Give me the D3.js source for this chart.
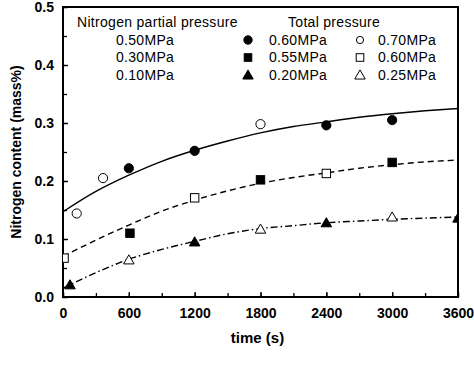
<!DOCTYPE html>
<html>
<head>
<meta charset="utf-8">
<script src="https://cdn.jsdelivr.net/npm/d3@7"></script>
<style>
body { margin: 0; background: #fff; }
svg { display: block; }
</style>
</head>
<body>
<div id="chart"></div>
<script>
// data
var curveTimes = [0, 300, 600, 900, 1200, 1500, 1800, 2100, 2400, 2700, 3000, 3300, 3600];
var curve050 = [0.147, 0.182, 0.210, 0.234, 0.253, 0.269, 0.283, 0.294, 0.302, 0.310, 0.316, 0.321, 0.325];
var curve030 = [0.070, 0.098, 0.124, 0.148, 0.167, 0.183, 0.196, 0.206, 0.214, 0.222, 0.228, 0.233, 0.236];
var curve010 = [0.015, 0.042, 0.065, 0.082, 0.096, 0.109, 0.118, 0.123, 0.128, 0.131, 0.134, 0.136, 0.138];

// points: [time, content]
var filledCircles = [[600, 0.222], [1200, 0.252], [2400, 0.296], [3000, 0.305]];
var openCircles = [[125, 0.144], [365, 0.205], [1800, 0.298]];
var filledSquares = [[610, 0.110], [1800, 0.202], [3000, 0.232]];
var openSquares = [[10, 0.067], [1200, 0.171], [2400, 0.213]];
var filledTriangles = [[64, 0.021], [1200, 0.095], [2400, 0.128], [3600, 0.136]];
var openTriangles = [[600, 0.064], [1800, 0.117], [3000, 0.138]];

var xTicks = [0, 600, 1200, 1800, 2400, 3000, 3600];
var yTicks = [0.0, 0.1, 0.2, 0.3, 0.4, 0.5];

var partialLabels = ["0.50MPa", "0.30MPa", "0.10MPa"];
var totalFilledLabels = ["0.60MPa", "0.55MPa", "0.20MPa"];
var totalOpenLabels = ["0.70MPa", "0.60MPa", "0.25MPa"];

var svgWidth = 474, svgHeight = 366;
var margin = {top: 7, right: 16, bottom: 69, left: 63};
var chartWidth = svgWidth - margin.left - margin.right;
var chartHeight = svgHeight - margin.top - margin.bottom;

var svg = d3.select("#chart").append("svg")
  .attr("width", svgWidth)
  .attr("height", svgHeight);

var chartGroup = svg.append("g")
  .attr("transform", `translate(${margin.left}, ${margin.top})`);

var x = d3.scaleLinear().domain([0, 3600]).range([0, chartWidth]);
var y = d3.scaleLinear().domain([0, 0.5]).range([chartHeight, 0]);

svg.append("defs").append("clipPath").attr("id", "plotclip")
  .append("rect").attr("width", chartWidth).attr("height", chartHeight);

var tickFont = "'Liberation Sans', Arial, sans-serif";
var legendFont = "'Liberation Sans', Arial, sans-serif";

// minor inward ticks
chartGroup.append("g")
  .attr("transform", `translate(0, ${chartHeight})`)
  .call(d3.axisBottom(x).tickValues(d3.range(0, 3601, 300)).tickSize(-4).tickFormat(""))
  .call(g => g.select(".domain").remove())
  .selectAll("line").attr("stroke-width", 1.3);
chartGroup.append("g")
  .call(d3.axisLeft(y).tickValues(d3.range(0, 0.501, 0.05)).tickSize(-4).tickFormat(""))
  .call(g => g.select(".domain").remove())
  .selectAll("line").attr("stroke-width", 1.3);

// x axis labels
var bottomAxis = chartGroup.append("g")
  .attr("transform", `translate(0, ${chartHeight})`)
  .call(d3.axisBottom(x).tickValues(xTicks).tickSize(-5).tickPadding(11).tickFormat(d3.format("d")));
bottomAxis.select(".domain").remove();
bottomAxis.selectAll("line").attr("stroke-width", 1.3);
bottomAxis.selectAll("text")
  .attr("font-family", tickFont).attr("font-weight", "bold").attr("font-size", "14px").attr("fill", "#000");

var leftAxis = chartGroup.append("g")
  .call(d3.axisLeft(y).tickValues(yTicks).tickSize(-5).tickPadding(9).tickFormat(d3.format(".1f")));
leftAxis.select(".domain").remove();
leftAxis.selectAll("line").attr("stroke-width", 1.3);
leftAxis.selectAll("text")
  .attr("font-family", tickFont).attr("font-weight", "bold").attr("font-size", "14px").attr("fill", "#000");

// frame
chartGroup.append("rect")
  .attr("width", chartWidth).attr("height", chartHeight)
  .attr("fill", "none").attr("stroke", "#000").attr("stroke-width", 2);

// curves
var line = d3.line()
  .x((d, i) => x(curveTimes[i]))
  .y(d => y(d))
  .curve(d3.curveMonotoneX);

var plot = chartGroup.append("g").attr("clip-path", "url(#plotclip)");

plot.append("path").datum(curve050).attr("d", line)
  .attr("fill", "none").attr("stroke", "#000").attr("stroke-width", 1.4);
plot.append("path").datum(curve030).attr("d", line)
  .attr("fill", "none").attr("stroke", "#000").attr("stroke-width", 1.4)
  .attr("stroke-dasharray", "6,4");
plot.append("path").datum(curve010).attr("d", line)
  .attr("fill", "none").attr("stroke", "#000").attr("stroke-width", 1.4)
  .attr("stroke-dasharray", "7,3,1.5,3");

// markers
var triPath = d3.symbol().type(d3.symbolTriangle).size(48);

function drawCircles(g, data, filled) {
  g.selectAll(null).data(data).enter().append("circle")
    .attr("cx", d => x(d[0])).attr("cy", d => y(d[1]))
    .attr("r", 4.6)
    .attr("fill", filled ? "#000" : "#fff")
    .attr("stroke", "#000").attr("stroke-width", 1);
}
function drawSquares(g, data, filled) {
  g.selectAll(null).data(data).enter().append("rect")
    .attr("x", d => x(d[0]) - 4.2).attr("y", d => y(d[1]) - 4.2)
    .attr("width", 8.4).attr("height", 8.4)
    .attr("fill", filled ? "#000" : "#fff")
    .attr("stroke", "#000").attr("stroke-width", 1);
}
function drawTriangles(g, data, filled) {
  g.selectAll(null).data(data).enter().append("path")
    .attr("d", triPath)
    .attr("transform", d => `translate(${x(d[0])}, ${y(d[1]) + 1})`)
    .attr("fill", filled ? "#000" : "#fff")
    .attr("stroke", "#000").attr("stroke-width", 1);
}

drawCircles(plot, filledCircles, true);
drawCircles(plot, openCircles, false);
drawSquares(plot, filledSquares, true);
drawSquares(plot, openSquares, false);
drawTriangles(plot, filledTriangles, true);
drawTriangles(plot, openTriangles, false);

// legend
var legend = svg.append("g")
  .attr("font-family", legendFont).attr("font-size", "14px")
  .attr("letter-spacing", "0.3px").attr("fill", "#000");

legend.append("text").attr("x", 77).attr("y", 27).text("Nitrogen partial pressure");
legend.append("text").attr("x", 288).attr("y", 27).text("Total pressure");

var rowY = [40, 57.5, 75];
legend.selectAll(".pp").data(partialLabels).enter().append("text")
  .attr("x", 116).attr("y", (d, i) => rowY[i] + 4.5).text(d => d);
legend.selectAll(".tf").data(totalFilledLabels).enter().append("text")
  .attr("x", 269).attr("y", (d, i) => rowY[i] + 4.5).text(d => d);
legend.selectAll(".to").data(totalOpenLabels).enter().append("text")
  .attr("x", 378).attr("y", (d, i) => rowY[i] + 4.5).text(d => d);

var legendMarks = [
  {type: "circle", filled: true, cx: 248, cy: rowY[0]},
  {type: "circle", filled: false, cx: 360, cy: rowY[0]},
  {type: "square", filled: true, cx: 248, cy: rowY[1]},
  {type: "square", filled: false, cx: 360, cy: rowY[1]},
  {type: "tri", filled: true, cx: 248, cy: rowY[2]},
  {type: "tri", filled: false, cx: 360, cy: rowY[2]}
];
legendMarks.forEach(m => {
  var fill = m.filled ? "#000" : "#fff";
  if (m.type === "circle") {
    legend.append("circle").attr("cx", m.cx).attr("cy", m.cy).attr("r", m.filled ? 4.2 : 3.6)
      .attr("fill", fill).attr("stroke", "#000").attr("stroke-width", 1);
  } else if (m.type === "square") {
    legend.append("rect").attr("x", m.cx - 3.8).attr("y", m.cy - 3.8).attr("width", 7.6).attr("height", 7.6)
      .attr("fill", fill).attr("stroke", "#000").attr("stroke-width", 1);
  } else {
    legend.append("path").attr("d", triPath).attr("transform", `translate(${m.cx}, ${m.cy + 1})`)
      .attr("fill", fill).attr("stroke", "#000").attr("stroke-width", 1);
  }
});

// axis titles
svg.append("text")
  .attr("x", margin.left + chartWidth / 2 - 3).attr("y", 343)
  .attr("text-anchor", "middle")
  .attr("font-family", tickFont).attr("font-weight", "bold").attr("font-size", "15px")
  .text("time (s)");

svg.append("text")
  .attr("transform", `translate(21, 152) rotate(-90)`)
  .attr("text-anchor", "middle")
  .attr("font-family", tickFont).attr("font-weight", "bold").attr("font-size", "14px")
  .text("Nitrogen content (mass%)");
</script>
</body>
</html>
